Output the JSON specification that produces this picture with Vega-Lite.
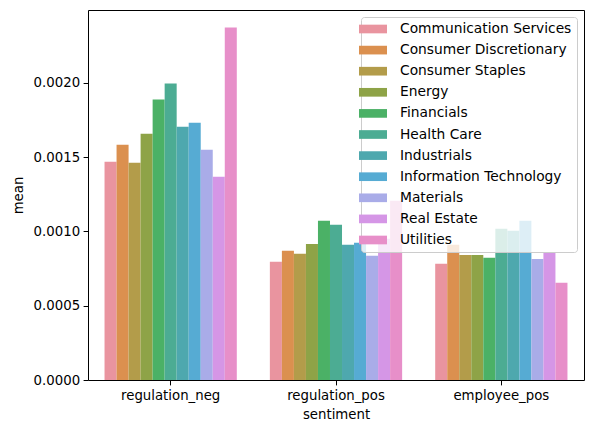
{
  "$schema": "https://vega.github.io/schema/vega-lite/v6.json",
  "width": 496,
  "height": 370,
  "autosize": "none",
  "padding": {"left": 88, "top": 10, "right": 10, "bottom": 53},
  "background": "white",
  "config": {
    "view": {"stroke": "black", "strokeWidth": 1},
    "font": "DejaVu Sans",
    "axis": {
      "grid": false,
      "domain": false,
      "labelFont": "DejaVu Sans",
      "labelFontSize": 13.3,
      "labelColor": "black",
      "titleFont": "DejaVu Sans",
      "titleFontSize": 13.3,
      "titleFontWeight": "normal",
      "titleColor": "black",
      "tickColor": "black",
      "tickSize": 4.9,
      "labelPadding": 3.5
    }
  },
  "data": {
    "values": [
      {"sentiment": "regulation_neg", "sector": "Communication Services", "mean": 0.001469},
      {"sentiment": "regulation_neg", "sector": "Consumer Discretionary", "mean": 0.001584},
      {"sentiment": "regulation_neg", "sector": "Consumer Staples", "mean": 0.001462},
      {"sentiment": "regulation_neg", "sector": "Energy", "mean": 0.001658},
      {"sentiment": "regulation_neg", "sector": "Financials", "mean": 0.001887},
      {"sentiment": "regulation_neg", "sector": "Health Care", "mean": 0.001995},
      {"sentiment": "regulation_neg", "sector": "Industrials", "mean": 0.001705},
      {"sentiment": "regulation_neg", "sector": "Information Technology", "mean": 0.001732},
      {"sentiment": "regulation_neg", "sector": "Materials", "mean": 0.00155},
      {"sentiment": "regulation_neg", "sector": "Real Estate", "mean": 0.001368},
      {"sentiment": "regulation_neg", "sector": "Utilities", "mean": 0.002372},
      {"sentiment": "regulation_pos", "sector": "Communication Services", "mean": 0.000795},
      {"sentiment": "regulation_pos", "sector": "Consumer Discretionary", "mean": 0.000869},
      {"sentiment": "regulation_pos", "sector": "Consumer Staples", "mean": 0.000849},
      {"sentiment": "regulation_pos", "sector": "Energy", "mean": 0.000916},
      {"sentiment": "regulation_pos", "sector": "Financials", "mean": 0.001071},
      {"sentiment": "regulation_pos", "sector": "Health Care", "mean": 0.001044},
      {"sentiment": "regulation_pos", "sector": "Industrials", "mean": 0.00091},
      {"sentiment": "regulation_pos", "sector": "Information Technology", "mean": 0.000923},
      {"sentiment": "regulation_pos", "sector": "Materials", "mean": 0.000836},
      {"sentiment": "regulation_pos", "sector": "Real Estate", "mean": 0.00095},
      {"sentiment": "regulation_pos", "sector": "Utilities", "mean": 0.001206},
      {"sentiment": "employee_pos", "sector": "Communication Services", "mean": 0.000782},
      {"sentiment": "employee_pos", "sector": "Consumer Discretionary", "mean": 0.00091},
      {"sentiment": "employee_pos", "sector": "Consumer Staples", "mean": 0.000842},
      {"sentiment": "employee_pos", "sector": "Energy", "mean": 0.000842},
      {"sentiment": "employee_pos", "sector": "Financials", "mean": 0.000822},
      {"sentiment": "employee_pos", "sector": "Health Care", "mean": 0.001018},
      {"sentiment": "employee_pos", "sector": "Industrials", "mean": 0.001004},
      {"sentiment": "employee_pos", "sector": "Information Technology", "mean": 0.001071},
      {"sentiment": "employee_pos", "sector": "Materials", "mean": 0.000815},
      {"sentiment": "employee_pos", "sector": "Real Estate", "mean": 0.000856},
      {"sentiment": "employee_pos", "sector": "Utilities", "mean": 0.000654}
    ]
  },
  "mark": {"type": "bar"},
  "encoding": {
    "x": {
      "field": "sentiment",
      "type": "nominal",
      "sort": ["regulation_neg", "regulation_pos", "employee_pos"],
      "scale": {"paddingInner": 0.2, "paddingOuter": 0.1},
      "axis": {"title": "sentiment", "labelAngle": 0, "titlePadding": 6}
    },
    "xOffset": {
      "field": "sector",
      "type": "nominal",
      "scale": {"paddingInner": 0, "paddingOuter": 0}
    },
    "y": {
      "field": "mean",
      "type": "quantitative",
      "scale": {"domain": [0, 0.00249], "nice": false, "zero": true},
      "axis": {
        "title": "mean",
        "values": [0, 0.0005, 0.001, 0.0015, 0.002],
        "format": ".4f",
        "titlePadding": 8
      }
    },
    "color": {
      "field": "sector",
      "type": "nominal",
      "scale": {
        "range": ["#E9949F", "#DB904F", "#B39C4A", "#8EA347", "#4BB166", "#4CAC93", "#4EA8AE", "#56ABD3", "#A9ACE8", "#D596E6", "#E78FC9"]
      },
      "legend": {
        "title": null,
        "orient": "top-right",
        "offset": 7,
        "fillColor": "rgba(255,255,255,0.8)",
        "strokeColor": "#cccccc",
        "cornerRadius": 3,
        "padding": 5,
        "symbolType": "M-2,-0.62H2V0.62H-2Z",
        "symbolSize": 196,
        "symbolStrokeWidth": 0,
        "symbolOpacity": 1,
        "labelFont": "DejaVu Sans",
        "labelFontSize": 13.8,
        "labelColor": "black",
        "labelOffset": 20,
        "rowPadding": 7.1,
        "labelLimit": 300
      }
    }
  }
}
